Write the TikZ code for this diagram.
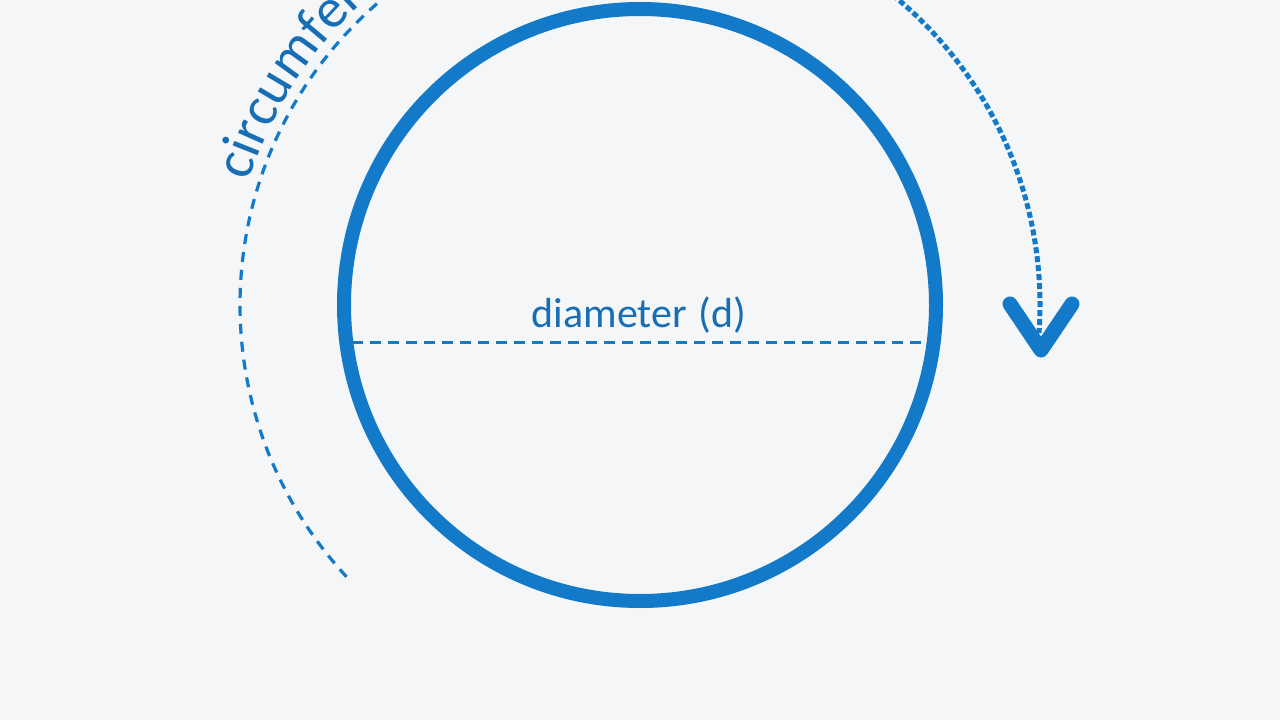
\documentclass[tikz,border=0pt]{standalone}
\usepackage{fontspec}
\setmainfont{Carlito}
\usetikzlibrary{decorations.text}
\definecolor{bg}{RGB}{244,246,248}
\definecolor{blu}{RGB}{18,122,200}
\definecolor{txt}{RGB}{24,110,180}
\tikzset{
  ring/.style={draw=blu, line width=14},
  dia/.style={draw=blu, line width=3, dash pattern=on 11 off 7},
  leftarc/.style={draw=blu, line width=3.2, dash pattern=on 10 off 8},
  rightarc/.style={draw=blu, line width=5, dash pattern=on 6 off 3},
  chev/.style={draw=blu, line width=15, line cap=round, line join=round},
  lab/.style={text=txt, font=\fontsize{42}{46}\selectfont, inner sep=0}
}
\begin{document}
\begin{tikzpicture}[x=1pt,y=-1pt]
\fill[bg] (0,0) rectangle (1280,720);
\useasboundingbox (0,0) rectangle (1280,720);
\clip (0,0) rectangle (1280,720);
\coordinate (O) at (640,305);
\node[circle, ring, minimum size=592, inner sep=0] (c) at (O) {};
\coordinate (dl) at (352,342);
\coordinate (dr) at (930,342);
\draw[dia] (dl) -- (dr);
\node[lab] (dlab) at (639,315) {diameter\hspace{2pt} (d)};
\draw[leftarc] ([shift={(137.2:400)}]O) arc[start angle=137.2, end angle=236, radius=400];
\draw[rightarc] ([shift={(-56:400)}]O) arc[start angle=-56, end angle=4, radius=400];
\coordinate (a1) at (1010,304);
\coordinate (tip) at (1041,350);
\coordinate (a2) at (1072,304);
\draw[chev] (a1) -- (tip) -- (a2);
\path[decorate, decoration={text along path, text align=left,
  text={|\fontsize{56}{60}\selectfont\color{txt}|circumference}}]
  ([shift={(197.5:410)}]O) arc[start angle=197.5, end angle=300, radius=410];
\end{tikzpicture}
\end{document}
